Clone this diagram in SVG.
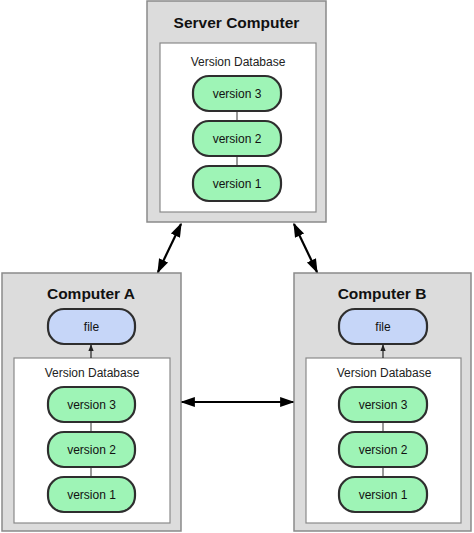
<svg xmlns="http://www.w3.org/2000/svg" width="474" height="533" viewBox="0 0 474 533">
<defs>
<style>
.outer{fill:#dcdcdc;stroke:#8a8a8a;stroke-width:1.5}
.inner{fill:#ffffff;stroke:#8a8a8a;stroke-width:1.2}
.ver{fill:#9ef4b6;stroke:#2e2e2e;stroke-width:2.2}
.file{fill:#c6d6f8;stroke:#2e2e2e;stroke-width:2.2}
.title{font-family:"Liberation Sans",Arial,sans-serif;font-weight:bold;font-size:15.5px;fill:#111;text-anchor:middle}
.db{font-family:"Liberation Sans",Arial,sans-serif;font-size:12px;fill:#222;text-anchor:middle}
.lbl{font-family:"Liberation Sans",Arial,sans-serif;font-size:12px;fill:#111;text-anchor:middle}
.link{stroke:#555;stroke-width:1.2}
.conn{stroke:#000;stroke-width:2.2;fill:none}
.small{stroke:#222;stroke-width:1.2;fill:none}
</style>
<marker id="ah" viewBox="0 0 10 10" refX="9" refY="5" markerWidth="6.5" markerHeight="6.5" orient="auto-start-reverse" markerUnits="strokeWidth">
<path d="M0,1.5 L10,5 L0,8.5 z" fill="#000"/>
</marker>
<marker id="sa" viewBox="0 0 10 10" refX="9" refY="5" markerWidth="5.5" markerHeight="5.5" orient="auto" markerUnits="strokeWidth">
<path d="M0,1 L10,5 L0,9 z" fill="#222"/>
</marker>
</defs>

<g id="server">
<rect class="outer" x="147" y="1" width="179" height="221"/>
<text class="title" x="236.5" y="28">Server Computer</text>
<rect class="inner" x="160" y="43" width="156" height="169"/>
<text class="db" x="238" y="66">Version Database</text>
<line class="link" x1="237" y1="111" x2="237" y2="121"/>
<line class="link" x1="237" y1="156" x2="237" y2="166"/>
<g id="server-v3"><rect class="ver" x="193" y="76" width="88" height="35" rx="16"/><text class="lbl" x="237" y="98">version 3</text></g>
<g id="server-v2"><rect class="ver" x="193" y="121" width="88" height="35" rx="16"/><text class="lbl" x="237" y="143">version 2</text></g>
<g id="server-v1"><rect class="ver" x="193" y="166" width="88" height="35" rx="16"/><text class="lbl" x="237" y="188">version 1</text></g>
</g>

<g id="computerA">
<rect class="outer" x="2" y="273" width="179" height="258"/>
<text class="title" x="91" y="299">Computer A</text>
<rect class="inner" x="14" y="358" width="156" height="165"/>
<text class="db" x="92" y="377">Version Database</text>
<g id="a-file"><rect class="file" x="48" y="309" width="87" height="35" rx="16"/><text class="lbl" x="91.5" y="331">file</text></g>
<line class="link" x1="91" y1="422" x2="91" y2="432"/>
<line class="link" x1="91" y1="467" x2="91" y2="477"/>
<g id="a-v3"><rect class="ver" x="48" y="387" width="87" height="35" rx="16"/><text class="lbl" x="91.5" y="409">version 3</text></g>
<g id="a-v2"><rect class="ver" x="48" y="432" width="87" height="35" rx="16"/><text class="lbl" x="91.5" y="454">version 2</text></g>
<g id="a-v1"><rect class="ver" x="48" y="477" width="87" height="35" rx="16"/><text class="lbl" x="91.5" y="499">version 1</text></g>
</g>

<g id="computerB">
<rect class="outer" x="294" y="273" width="177" height="258"/>
<text class="title" x="382" y="299">Computer B</text>
<rect class="inner" x="306" y="358" width="155" height="165"/>
<text class="db" x="384" y="377">Version Database</text>
<g id="b-file"><rect class="file" x="339" y="309" width="88" height="35" rx="16"/><text class="lbl" x="383" y="331">file</text></g>
<line class="link" x1="383" y1="422" x2="383" y2="432"/>
<line class="link" x1="383" y1="467" x2="383" y2="477"/>
<g id="b-v3"><rect class="ver" x="339" y="387" width="88" height="35" rx="16"/><text class="lbl" x="383" y="409">version 3</text></g>
<g id="b-v2"><rect class="ver" x="339" y="432" width="88" height="35" rx="16"/><text class="lbl" x="383" y="454">version 2</text></g>
<g id="b-v1"><rect class="ver" x="339" y="477" width="88" height="35" rx="16"/><text class="lbl" x="383" y="499">version 1</text></g>
</g>

<g id="connectors">
<line class="conn" x1="181" y1="224" x2="158" y2="272" marker-start="url(#ah)" marker-end="url(#ah)"/>
<line class="conn" x1="294" y1="224" x2="317" y2="272" marker-start="url(#ah)" marker-end="url(#ah)"/>
<line class="conn" x1="182" y1="402" x2="293" y2="402" marker-start="url(#ah)" marker-end="url(#ah)"/>
<line class="small" x1="91" y1="358" x2="91" y2="345" marker-end="url(#sa)"/>
<line class="small" x1="383" y1="358" x2="383" y2="345" marker-end="url(#sa)"/>
</g>
</svg>
